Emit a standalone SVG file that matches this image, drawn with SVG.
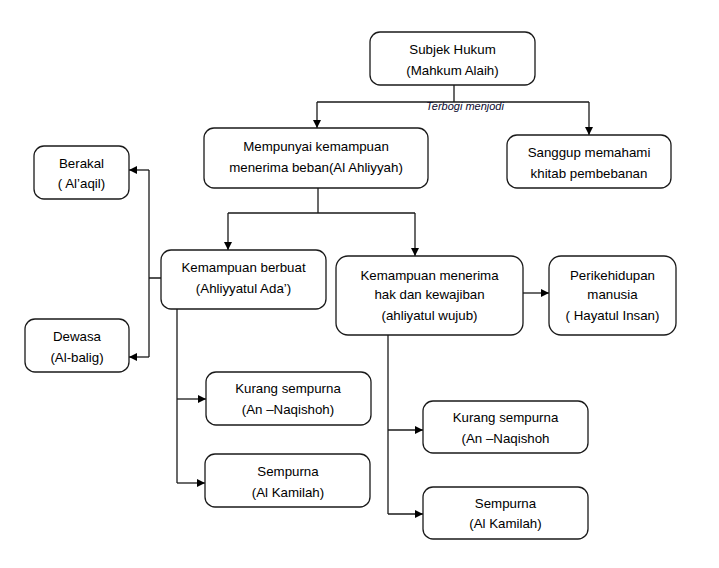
<svg xmlns="http://www.w3.org/2000/svg" width="719" height="568" viewBox="0 0 719 568">
<style>
.box{fill:#fff;stroke:#1a1a1a;stroke-width:1.3}
.t{font-family:"Liberation Sans",Arial,sans-serif;font-size:13.3px;fill:#000;text-anchor:middle}
.lbl{font-family:"Liberation Sans",Arial,sans-serif;font-size:11px;font-style:italic;fill:#0a0a30;text-anchor:middle}
.c{fill:none;stroke:#1a1a1a;stroke-width:1.3}
</style>
<defs>
<marker id="ah" viewBox="0 0 10 10" refX="10" refY="5" markerWidth="8" markerHeight="8" markerUnits="userSpaceOnUse" orient="auto">
<path d="M0,0 L10,5 L0,10 Z" fill="#000"/>
</marker>
</defs>
<rect width="719" height="568" fill="#fff"/>
<g id="connectors">
<path class="c" d="M454,85 V102 M317,102 H589"/>
<path class="c" d="M317,102 V128" marker-end="url(#ah)"/>
<path class="c" d="M589,102 V135" marker-end="url(#ah)"/>
<path class="c" d="M318,188 V213 M228,213 H415"/>
<path class="c" d="M228,213 V250" marker-end="url(#ah)"/>
<path class="c" d="M415,213 V256" marker-end="url(#ah)"/>
<path class="c" d="M161,278 H149 M149,170 V357"/>
<path class="c" d="M149,170 H129" marker-end="url(#ah)"/>
<path class="c" d="M149,357 H129" marker-end="url(#ah)"/>
<path class="c" d="M177,309 V483"/>
<path class="c" d="M177,399 H206" marker-end="url(#ah)"/>
<path class="c" d="M177,483 H205" marker-end="url(#ah)"/>
<path class="c" d="M523,293 H549" marker-end="url(#ah)"/>
<path class="c" d="M388,335 V514"/>
<path class="c" d="M388,430 H423" marker-end="url(#ah)"/>
<path class="c" d="M388,514 H423" marker-end="url(#ah)"/>
<text class="lbl" x="465" y="110">Terbogi menjodi</text>
</g>
<g id="subjek">
<rect class="box" x="370" y="32" width="165" height="53" rx="10"/>
<text class="t" x="452.5" y="53.5">Subjek Hukum</text>
<text class="t" x="452.5" y="74.5">(Mahkum Alaih)</text>
</g>
<g id="mempunyai">
<rect class="box" x="204" y="128" width="224" height="60" rx="10"/>
<text class="t" x="316" y="150.5">Mempunyai kemampuan</text>
<text class="t" x="316" y="171.5">menerima beban(Al Ahliyyah)</text>
</g>
<g id="sanggup">
<rect class="box" x="507" y="135" width="164" height="53" rx="10"/>
<text class="t" x="589" y="156.5">Sanggup memahami</text>
<text class="t" x="589" y="177.5">khitab pembebanan</text>
</g>
<g id="berakal">
<rect class="box" x="34" y="146" width="95" height="53" rx="10"/>
<text class="t" x="81.5" y="167.5">Berakal</text>
<text class="t" x="81.5" y="188">( Al’aqil)</text>
</g>
<g id="dewasa">
<rect class="box" x="25" y="319" width="104" height="53" rx="10"/>
<text class="t" x="77" y="340.5">Dewasa</text>
<text class="t" x="77" y="361.5">(Al-balig)</text>
</g>
<g id="berbuat">
<rect class="box" x="161" y="250" width="165" height="59" rx="10"/>
<text class="t" x="243.5" y="271.5">Kemampuan berbuat</text>
<text class="t" x="243.5" y="292.5">(Ahliyyatul Ada’)</text>
</g>
<g id="menerima">
<rect class="box" x="336" y="256" width="187" height="79" rx="12"/>
<text class="t" x="429.5" y="279.5">Kemampuan menerima</text>
<text class="t" x="429.5" y="298.5">hak dan kewajiban</text>
<text class="t" x="429.5" y="319.5">(ahliyatul wujub)</text>
</g>
<g id="perikehidupan">
<rect class="box" x="549" y="256" width="127" height="79" rx="12"/>
<text class="t" x="612.5" y="279.5">Perikehidupan</text>
<text class="t" x="612.5" y="298.5">manusia</text>
<text class="t" x="612.5" y="319.5">( Hayatul Insan)</text>
</g>
<g id="kurang-ada">
<rect class="box" x="206" y="372" width="165" height="53" rx="10"/>
<text class="t" x="288" y="392.5">Kurang sempurna</text>
<text class="t" x="288" y="413.5">(An –Naqishoh)</text>
</g>
<g id="sempurna-ada">
<rect class="box" x="205" y="454" width="165" height="53" rx="10"/>
<text class="t" x="288" y="475.5">Sempurna</text>
<text class="t" x="288" y="496.5">(Al Kamilah)</text>
</g>
<g id="kurang-wujub">
<rect class="box" x="423" y="401" width="165" height="52" rx="10"/>
<text class="t" x="505.5" y="421.5">Kurang sempurna</text>
<text class="t" x="505.5" y="442.5">(An –Naqishoh</text>
</g>
<g id="sempurna-wujub">
<rect class="box" x="423" y="487" width="165" height="52" rx="10"/>
<text class="t" x="505.5" y="507.5">Sempurna</text>
<text class="t" x="505.5" y="527.5">(Al Kamilah)</text>
</g>
</svg>
